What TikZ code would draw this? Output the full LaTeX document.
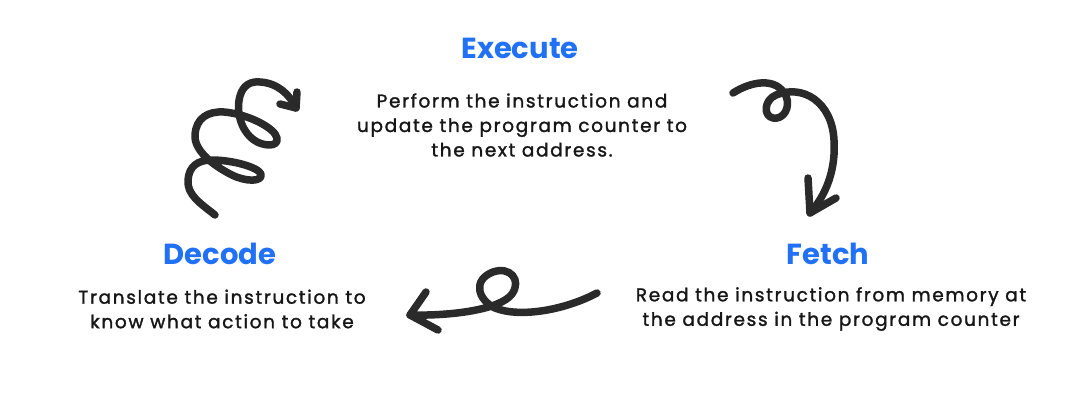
\documentclass[tikz,border=0pt]{standalone}
\usepackage{fontspec}
\setmainfont{Poppins}
\definecolor{stageblue}{HTML}{2171F6}
\definecolor{inkgray}{HTML}{2A2A2A}
\definecolor{textblack}{HTML}{161616}
\tikzset{
  stagetitle/.style={text=stageblue, font=\fontsize{29}{36}\selectfont\bfseries},
  stagetext/.style={text=textblack, align=center, font=\fontsize{18.5}{24.5}\selectfont\addfontfeature{LetterSpace=9,FakeBold=1.5}},
  curl/.style={draw=inkgray, line width=7.5pt, line cap=round, line join=round},
}

\begin{document}
\begin{tikzpicture}[x=1pt,y=-1pt]
  \useasboundingbox (0,0) rectangle (1080,400);
  % the three stages
  \node[stagetitle] (execute) at (520,48) {Execute};
  \node[stagetext] (executetext) at (522,125) {Perform the instruction and\\update the program counter to\\the next address.};
  \node[stagetitle] (fetch) at (828,254) {Fetch};
  \node[stagetext] (fetchtext) at (831,309) {Read the instruction from memory at\\the address in the program counter};
  \node[stagetitle] (decode) at (220,254) {Decode};
  \node[stagetext] (decodetext) at (222,309) {Translate the instruction to\\know what action to take};

  % execute -> fetch
  \coordinate (e2f) at (810,213);
  \draw[curl] (733,93) .. controls (750,82) and (776,76) .. (786,96)
    .. controls (791,108) and (783,120) .. (773,118)
    .. controls (763,116) and (764,100) .. (776,95)
    .. controls (803,84) and (832,102) .. (834,140)
    .. controls (836,170) and (826,195) .. (e2f);
  \draw[curl] (808,178) -- (e2f) -- (836,198);

  % fetch -> decode
  \coordinate (f2d) at (410,315);
  \draw[curl] (597,293) .. controls (565,310) and (520,318) .. (495,308)
    .. controls (478,300) and (472,280) .. (493,272)
    .. controls (510,266) and (522,280) .. (512,294)
    .. controls (500,310) and (450,316) .. (f2d);
  \draw[curl] (426,292) -- (f2d) -- (438,330);

  % decode -> execute
  \coordinate (d2e) at (296,108);
  \draw[curl] (215,215) .. controls (200,203) and (187,195) .. (188,180)
    .. controls (189,166) and (198,160) .. (212,160)
    .. controls (232,160) and (258,167) .. (261,174)
    .. controls (263,182) and (246,182) .. (232,175)
    .. controls (212,165) and (194,150) .. (195,135)
    .. controls (196,118) and (208,111) .. (224,112)
    .. controls (248,114) and (275,128) .. (277,138)
    .. controls (279,148) and (262,146) .. (254,140)
    .. controls (240,130) and (236,110) .. (240,96)
    .. controls (243,85) and (251,81) .. (260,82)
    .. controls (278,83) and (290,95) .. (d2e);
  \draw[curl] (280,104) -- (d2e) -- (297,92);
\end{tikzpicture}
\end{document}
